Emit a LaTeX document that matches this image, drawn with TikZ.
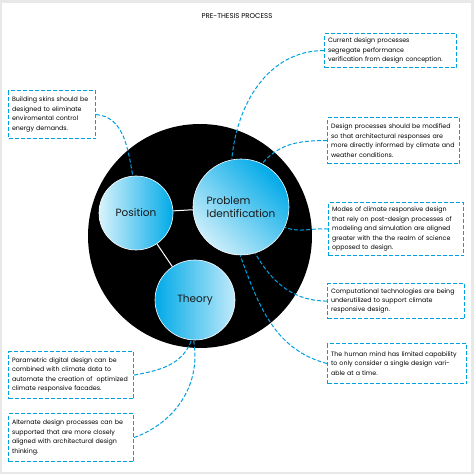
\documentclass[tikz,border=0pt]{standalone}
\usepackage{fontspec}
\setmainfont{Poppins}
\usepackage{xcolor}
\definecolor{mycyan}{RGB}{0,170,232}
\definecolor{mydash}{RGB}{0,160,225}
\definecolor{myframe}{RGB}{232,232,232}
\usepackage{tikz}
\usetikzlibrary{calc}

\begin{document}
\begin{tikzpicture}[x=1pt,y=1pt,
    note/.style={draw=mydash, line width=1.1pt, dash pattern=on 4pt off 2pt,
      anchor=north west, align=left, inner xsep=3pt, inner ysep=2pt,
      text=black, font=\fontsize{6.3}{9.4}\selectfont},
    link/.style={draw=mydash, line width=1pt, dash pattern=on 4pt off 2pt},
    bubble/.style={circle, draw=white, line width=0.6pt, align=center,
      text=black!90, font=\fontsize{10.5}{12.5}\selectfont}]
      \useasboundingbox (0,0) rectangle (474,474);
      \fill[myframe] (0,0) rectangle (474,474);
      \fill[white] (2,2) rectangle (471,471);
      \node[font=\fontsize{7}{8}\selectfont] (title) at (237,458) {PRE-THESIS PROCESS};

      \coordinate (hub) at (200,238);
      \fill[black] (hub) circle [radius=112];

      \node[bubble, minimum size=74, left color=mycyan!15!white, middle color=mycyan!85, right color=mycyan] (pos) at (136,261) {Position};
      \node[bubble, minimum size=96, align=left, top color=mycyan, middle color=mycyan, bottom color=mycyan!20!white, shading angle=-45] (pi) at (241,267) {Problem\\Identification};
      \node[bubble, minimum size=80, left color=mycyan, middle color=mycyan, right color=mycyan!25!white] (theory) at (195,174) {Theory};
      \draw[white, line width=1pt] (pos) -- (pi) (pos) -- (theory);

      \node[note, minimum width=132, minimum height=34, text width=125] (n1) at (324,441)
        {Current design processes\\segregate performance\\verification from design conception.};
      \node[note, minimum width=132, minimum height=46, text width=125] (n2) at (327,357)
        {Design processes should be modified\\so that architectural responses are\\more directly informed by climate and\\weather conditions.};
      \node[note, minimum width=87, minimum height=48, text width=80] (n3) at (8,384)
        {Building skins should be\\designed to eliminate\\enviromental control\\energy demands.};
      \node[note, minimum width=135, minimum height=53, text width=128] (n4) at (328,272)
        {Modes of climate responsive design\\that rely on post-design processes of\\modeling and simulation are aligned\\greater with the the realm of science\\opposed to design.};
      \node[note, minimum width=137, minimum height=35, text width=130] (n5) at (327,191)
        {Computational technologies are being\\underutilized to support climate\\responsive design.};
      \node[note, minimum width=139, minimum height=40, text width=132] (n6) at (327,131)
        {The human mind has limited capability\\to only consider a single design vari-\\able at a time.};
      \node[note, minimum width=125, minimum height=47, text width=118] (n7) at (8,123)
        {Parametric digital design can be\\combined with climate data to\\automate the creation of~ optimized\\climate responsive facades.};
      \node[note, minimum width=125, minimum height=48, text width=118] (n8) at (8,61)
        {Alternate design processes can be\\supported that are more closely\\aligned with architectural design\\thinking.};

      \draw[link] (n1.west) to[out=180,in=85] (pi.101);
      \draw[link] (n2.west) to[out=180,in=50] (pi.64);
      \draw[link] (n3.east) to[out=-5,in=100] (pos.95);
      \draw[link] (n4.west) to[out=175,in=-20] (pi.-25);
      \draw[link] (n5.west) to[out=180,in=-60] (pi.-73);
      \draw[link] (n6.west) to[out=165,in=-70] (pi.-91);
      \draw[link] (n7.east) to[out=10,in=-110] (theory.-95);
      \draw[link] (n8.east) to[out=20,in=-80] (theory.-92);
    \end{tikzpicture}
\end{document}
